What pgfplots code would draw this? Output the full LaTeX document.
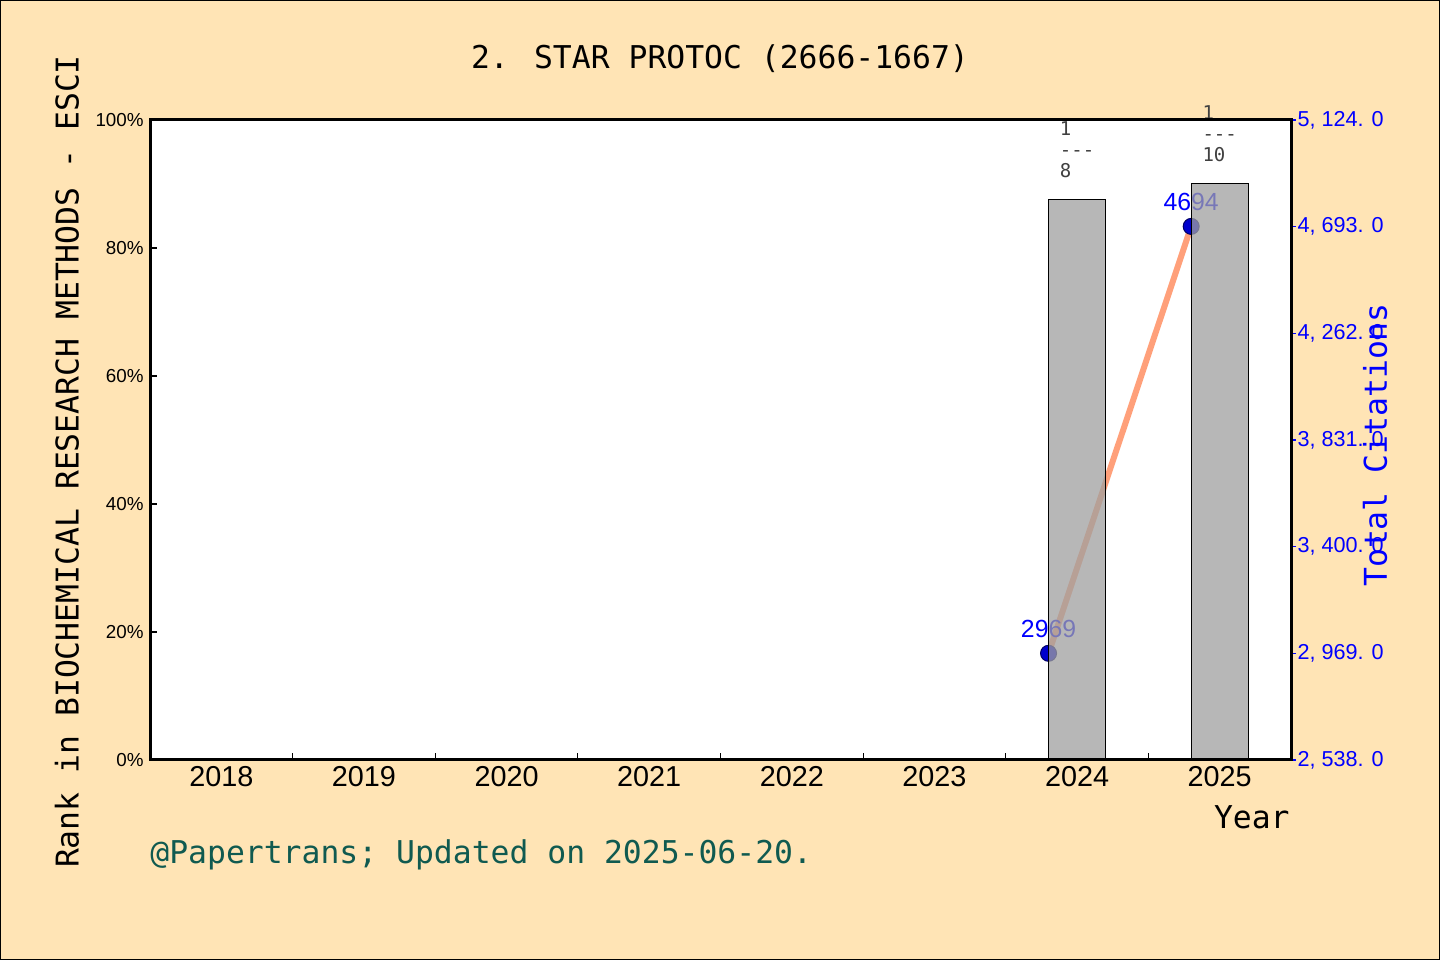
\documentclass[border=0pt]{standalone}
\usepackage{fontspec}
\setmainfont{DejaVu Sans Mono}
\newfontfamily\tickfont{Liberation Sans}
\usepackage{pgfplots}
\pgfplotsset{compat=1.18}
\definecolor{bgc}{HTML}{FFE4B5}
\definecolor{salmonl}{HTML}{FFA07A}
\definecolor{mblue}{HTML}{0000CD}
\definecolor{tealtxt}{HTML}{105A50}
\definecolor{bargray}{HTML}{A0A0A0}
\definecolor{lblgray}{HTML}{404040}

\pgfplotstableread{
x y
5.8 2969
6.8 4694
}\citetable
\pgfplotstableread{
x y
6 87.5
7 90
}\ranktable

\begin{document}
\begin{tikzpicture}[x=1bp,y=1bp]
\fill[bgc] (0,0) rectangle (720,480);
\draw[black, line width=0.6bp] (0.3,0.3) rectangle (719.7,479.7);
\fill[white] (75,100) rectangle (645.5,420);

% citations axis (right)
\begin{axis}[
  at={(75bp,100bp)}, anchor=south west, scale only axis,
  width=570.5bp, height=320bp,
  xmin=-0.5, xmax=7.5, ymin=2538, ymax=5124,
  axis x line=none, axis y line*=right,
  y axis line style={draw=none},
  ytick={2538,2969,3400,3831,4262,4693,5124},
  yticklabels={{2, 538. 0},{2, 969. 0},{3, 400. 0},{3, 831. 0},{4, 262. 0},{4, 693. 0},{5, 124. 0}},
  yticklabel style={font=\tickfont\fontsize{10.8bp}{12bp}\selectfont, text=blue, inner sep=0.6bp},
  tick align=outside, major tick length=2.5bp,
  ytick style={blue, line width=0.6bp},
  clip=false,
]
\addplot[salmonl, line width=3bp, mark=*, mark size=4bp,
  mark options={fill=mblue, draw=black!60!blue, line width=0.5bp},
  nodes near coords={\pgfmathprintnumber[fixed,precision=0,1000 sep={},assume math mode=true]{\pgfplotspointmeta}},
  point meta=y,
  every node near coord/.style={anchor=base, yshift=8bp, inner sep=0pt, text=blue,
     font=\tickfont\fontsize{12.4bp}{14bp}\selectfont}]
  table[x=x,y=y] {\citetable};
\end{axis}

% rank axis (left, bars)
\begin{axis}[
  at={(75bp,100bp)}, anchor=south west, scale only axis,
  width=570.5bp, height=320bp,
  xmin=-0.5, xmax=7.5, ymin=0, ymax=100,
  axis on top,
  axis line style={line width=1.5bp},
  xtick={0,1,2,3,4,5,6,7},
  xticklabels={2018,2019,2020,2021,2022,2023,2024,2025},
  minor xtick={0.5,1.5,2.5,3.5,4.5,5.5,6.5},
  xtick pos=left, ytick pos=left,
  tick align=inside,
  major x tick style={draw=none},
  minor tick length=3.5bp, major tick length=3.5bp,
  tick style={black, line width=0.6bp},
  xticklabel style={font=\tickfont\fontsize{14.4bp}{16bp}\selectfont, inner sep=3bp},
  ytick={0,20,40,60,80,100},
  yticklabels={0\%,20\%,40\%,60\%,80\%,100\%},
  yticklabel style={font=\tickfont\fontsize{9.4bp}{11bp}\selectfont, inner sep=3bp},
  clip=false,
]
\addplot[ybar, bar width=0.4, fill=bargray, fill opacity=0.75, draw=black, line width=0.5bp]
  table[x=x,y=y] {\ranktable};
\node[anchor=south, align=left, text=lblgray, inner sep=0pt, yshift=11bp,
  font=\fontsize{9.5bp}{10.5bp}\selectfont] at (axis cs:6,87.5) {1\\{-}{-}{-}\\8};
\node[anchor=south, align=left, text=lblgray, inner sep=0pt, yshift=11bp,
  font=\fontsize{9.5bp}{10.5bp}\selectfont] at (axis cs:7,90) {1\\{-}{-}{-}\\10};
\end{axis}

\node[font=\fontsize{15.7bp}{18bp}\selectfont] at (360,450.5) {2. STAR PROTOC (2666-1667)};
\node[rotate=90, font=\fontsize{15.7bp}{18bp}\selectfont] at (33.5,249.25) {Rank in BIOCHEMICAL RESEARCH METHODS - ESCI};
\node[rotate=90, text=blue, font=\fontsize{15.7bp}{18bp}\selectfont] at (687.5,257.5) {Total Citations};
\node[anchor=east, inner sep=0pt, font=\fontsize{15.7bp}{18bp}\selectfont] at (645,71.5) {Year};
\node[anchor=west, inner sep=0pt, text=tealtxt, font=\fontsize{15.7bp}{18bp}\selectfont] at (75,52.5) {@Papertrans; Updated on 2025-06-20.};

\pgfresetboundingbox
\path (0,0) rectangle (720,480);
\end{tikzpicture}
\end{document}
